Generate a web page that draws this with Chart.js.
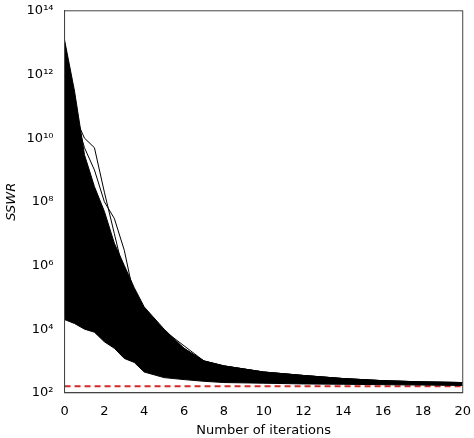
<!DOCTYPE html>
<html><head><meta charset="utf-8">
<script src="https://cdn.jsdelivr.net/npm/chart.js@4"></script>
<style>body{margin:0;background:#fff}#wrap{width:474px;height:438px}</style>
</head><body><div id="wrap"><canvas id="c"></canvas></div>
<script>
// iterações e envelope da faixa de curvas SSWR
const iters = [0, 0.5, 1, 1.5, 2, 2.5, 3, 3.5, 4, 5, 6, 7, 8, 10, 12, 14, 16, 18, 20]
const upper = [1.2e13, 3e11, 3e9, 3e8, 5e7, 5e6, 1e6, 2e5, 5e4, 1e4, 2.5e3, 1e3, 7e2, 4.5e2, 3.5e2, 2.8e2, 2.4e2, 2.2e2, 2.1e2]
const lower = [2e4, 1.5e4, 1e4, 8e3, 4e3, 2.5e3, 1.2e3, 9e2, 4.5e2, 3e2, 2.6e2, 2.3e2, 2.1e2, 2e2, 1.9e2, 1.85e2, 1.8e2, 1.75e2, 1.7e2]
const outlier1 = [1e12, 5e10, 1e10, 5e9, 2e8, 1e7, 5e5, 5e4, 2.2e4, 8e3, 2.5e3, 1e3, 7e2, 4.5e2, 3.5e2, 2.8e2, 2.4e2, 2.2e2, 2.1e2]
const outlier2 = [1e13, 6e10, 5e9, 1e9, 1e8, 3e7, 3e6, 1e5, 2.5e4, 9e3, 3e3, 1e3, 7e2, 4.5e2, 3.5e2, 2.8e2, 2.4e2, 2.2e2, 2.1e2]
const reference = 160
const yTicks = [1e2, 1e4, 1e6, 1e8, 1e10, 1e12, 1e14]
const sup = {'0':'⁰','1':'¹','2':'²','3':'³','4':'⁴','5':'⁵','6':'⁶','7':'⁷','8':'⁸','9':'⁹'}

const pts = arr => arr.map((v, i) => ({x: iters[i], y: v}))
const font = {family: 'DejaVu Sans', size: 13}

// moldura completa em volta da área do gráfico
const frame = {
  id: 'frame',
  afterDraw(chart) {
    const a = chart.chartArea, ctx = chart.ctx
    ctx.save()
    ctx.strokeStyle = '#444'
    ctx.lineWidth = 1
    ctx.strokeRect(a.left, a.top, a.right - a.left, a.bottom - a.top)
    ctx.restore()
  }
}

new Chart(document.getElementById('c'), {
  type: 'line',
  data: {
    datasets: [
      {data: pts(upper), borderColor: '#000', borderWidth: 1, pointRadius: 0, tension: 0, fill: '+1', backgroundColor: '#000'},
      {data: pts(lower), borderColor: '#000', borderWidth: 1, pointRadius: 0, tension: 0},
      {data: pts(outlier1), borderColor: '#000', borderWidth: 1, pointRadius: 0, tension: 0},
      {data: pts(outlier2), borderColor: '#000', borderWidth: 1, pointRadius: 0, tension: 0},
      {data: [{x: 0, y: reference}, {x: 20, y: reference}], borderColor: '#d62728', borderWidth: 2, borderDash: [6, 4], pointRadius: 0}
    ]
  },
  options: {
    responsive: true, maintainAspectRatio: false, animation: false,
    layout: {padding: {top: 4, right: 10}},
    plugins: {legend: {display: false}, tooltip: {enabled: false}},
    scales: {
      x: {
        type: 'linear', min: 0, max: 20,
        grid: {display: false},
        border: {color: '#444'},
        ticks: {stepSize: 2, color: '#000', font: font},
        title: {display: true, text: 'Number of iterations', color: '#000', font: font, padding: 0}
      },
      y: {
        type: 'logarithmic', min: 1e2, max: 1e14,
        grid: {display: false},
        border: {color: '#444'},
        afterBuildTicks: ax => { ax.ticks = yTicks.map(v => ({value: v})) },
        ticks: {color: '#000', font: font,
          callback: v => '10' + String(Math.round(Math.log10(v))).split('').map(d => sup[d]).join('')},
        title: {display: true, text: 'SSWR', color: '#000', font: {family: 'DejaVu Sans', size: 13, style: 'italic'}}
      }
    }
  },
  plugins: [frame]
})
</script></body></html>
